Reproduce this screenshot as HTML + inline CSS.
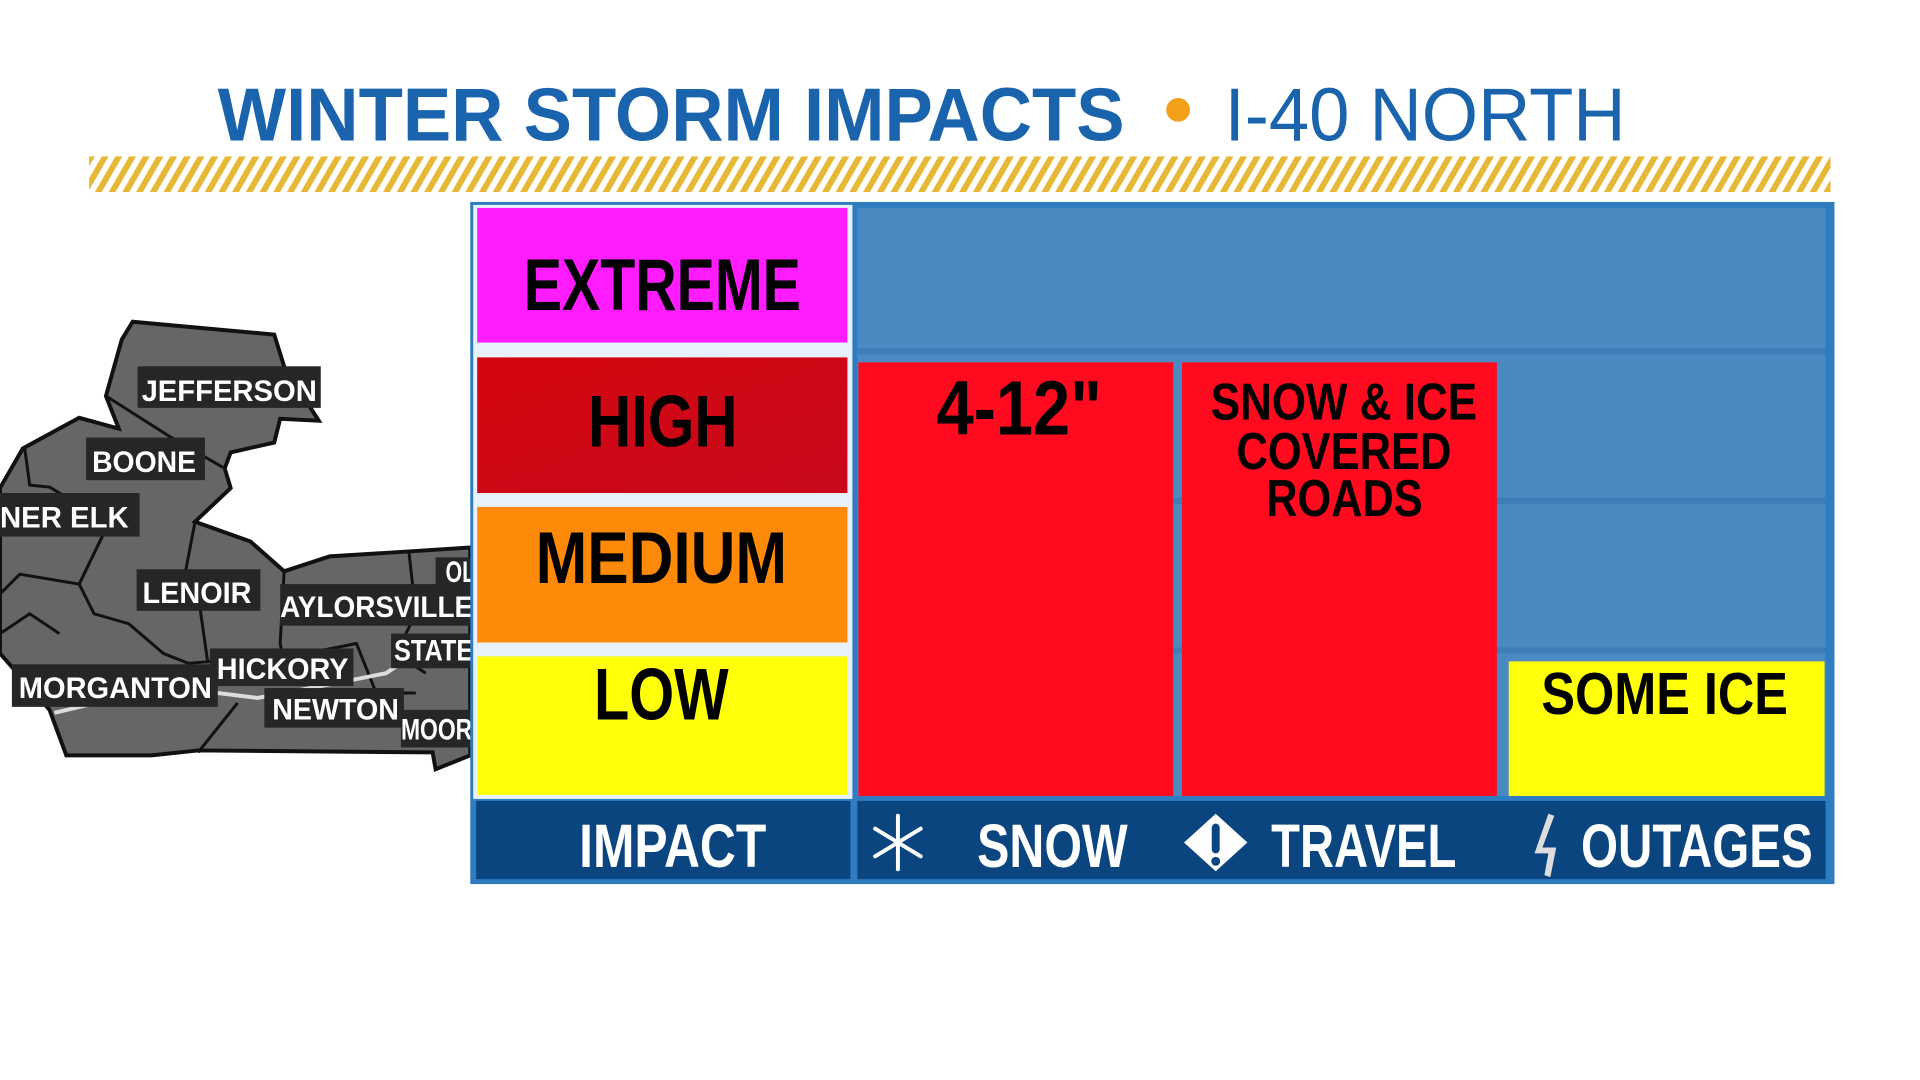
<!DOCTYPE html>
<html><head><meta charset="utf-8"><style>
html,body{margin:0;padding:0;background:#fff;width:1920px;height:1080px;overflow:hidden}
svg{display:block}
text{font-family:"Liberation Sans Narrow","Liberation Sans",sans-serif;font-weight:bold}
</style></head><body>
<svg width="1920" height="1080" viewBox="0 0 1920 1080" xmlns="http://www.w3.org/2000/svg">
<defs>
<pattern id="hatch" width="12" height="12" patternUnits="userSpaceOnUse" patternTransform="rotate(30)">
<rect width="12" height="12" fill="#fff"/><rect width="6" height="12" fill="#e6b835"/>
</pattern>
<linearGradient id="hg" x1="0" y1="0" x2="1" y2="1"><stop offset="0" stop-color="#d4060f"/><stop offset="1" stop-color="#c80a1c"/></linearGradient>
</defs>
<rect width="1920" height="1080" fill="#fff"/>
<g transform="scale(0.99)">
<!-- title -->
<text x="220" y="142" font-size="76" fill="#1a63ad" textLength="916" lengthAdjust="spacingAndGlyphs" style="font-family:'Liberation Sans',sans-serif">WINTER STORM IMPACTS</text>
<circle cx="1190" cy="111" r="12" fill="#f5a01a"/>
<text x="1237" y="142" font-size="76" fill="#1a63ad" textLength="405" lengthAdjust="spacingAndGlyphs" style="font-family:'Liberation Sans',sans-serif;font-weight:normal">I-40 NORTH</text>
<rect x="90" y="158" width="1759" height="36" fill="url(#hatch)"/>
<!-- map -->
<polygon points="134,325 277,338 287,370 322,425 283,423 277,447 233,457 227,473 233,493 197,527 253,547 287,577 333,562 413,557 475,553 475,763 440,777 437,760 200,758 153,763 67,763 50,717 0,660 0,493 23,453 80,422 120,433 107,400 123,343" fill="#666" stroke="#111" stroke-width="4"/>
<g stroke="#111" stroke-width="3" fill="none">
<polyline points="107,400 170,440 225,472"/>
<polyline points="25,453 30,490 50,492 110,528"/>
<polyline points="110,528 80,590 20,580 0,600"/>
<polyline points="110,528 80,590 95,620 130,630 165,660 190,670 215,668"/>
<polyline points="197,527 185,590 200,600 210,670"/>
<polyline points="287,577 283,650 285,660"/>
<polyline points="413,557 420,620 400,660 430,680"/>
<polyline points="285,665 360,650 380,700 420,700"/>
<polyline points="240,710 200,760"/>
<polyline points="0,640 30,620 60,640"/>
</g>
<polyline points="55,720 140,700 220,700 260,705 340,690 390,680 420,660 475,650" stroke="#ddd" stroke-width="4" fill="none"/>
<g fill="#262626">
<rect x="139" y="370" width="185" height="42"/><rect x="87" y="442" width="120" height="43"/>
<rect x="0" y="498" width="141" height="44"/><rect x="138" y="575" width="125" height="42"/>
<rect x="283" y="590" width="192" height="42"/><rect x="440" y="563" width="35" height="30"/>
<rect x="212" y="655" width="145" height="38"/><rect x="12" y="671" width="208" height="43"/>
<rect x="267" y="695" width="141" height="40"/><rect x="395" y="640" width="80" height="35"/>
<rect x="405" y="717" width="70" height="38"/>
</g>
<g fill="#fff" font-size="30" style="font-family:'Liberation Sans',sans-serif">
<text x="143" y="405" textLength="177" lengthAdjust="spacingAndGlyphs">JEFFERSON</text>
<text x="93" y="477" textLength="105" lengthAdjust="spacingAndGlyphs">BOONE</text>
<text x="0" y="533" textLength="130" lengthAdjust="spacingAndGlyphs">NER ELK</text>
<text x="144" y="609" textLength="110" lengthAdjust="spacingAndGlyphs">LENOIR</text>
<text x="283" y="623" textLength="195" lengthAdjust="spacingAndGlyphs">AYLORSVILLE</text>
<text x="450" y="588" textLength="30" lengthAdjust="spacingAndGlyphs">OL</text>
<text x="219" y="686" textLength="133" lengthAdjust="spacingAndGlyphs">HICKORY</text>
<text x="19" y="705" textLength="195" lengthAdjust="spacingAndGlyphs">MORGANTON</text>
<text x="275" y="727" textLength="128" lengthAdjust="spacingAndGlyphs">NEWTON</text>
<text x="398" y="667" textLength="80" lengthAdjust="spacingAndGlyphs">STATE</text>
<text x="405" y="747" textLength="72" lengthAdjust="spacingAndGlyphs">MOOR</text>
</g>
<!-- chart -->
<rect x="475" y="204" width="1378" height="689" fill="#2f7cc0"/>
<rect x="866" y="210" width="978" height="594" fill="#4a89c1"/>
<g fill="#3d7dba"><rect x="866" y="352" width="978" height="6"/><rect x="866" y="503" width="978" height="6"/><rect x="866" y="654" width="978" height="6"/></g>
<rect x="478" y="207" width="383" height="600" fill="#e8f2fa"/>
<rect x="482" y="210" width="374" height="136" fill="#ff1cff"/>
<rect x="482" y="361" width="374" height="137" fill="url(#hg)"/>
<rect x="482" y="512" width="374" height="137" fill="#ff8a0a"/>
<rect x="482" y="663" width="374" height="140" fill="#ffff0a"/>
<rect x="867" y="366" width="318" height="438" fill="#ff0a1e"/>
<rect x="1194" y="366" width="318" height="438" fill="#ff0a1e"/>
<rect x="1524" y="668" width="319" height="136" fill="#ffff0a"/>
<rect x="481" y="809" width="378" height="79" fill="#0b4580"/>
<rect x="866" y="809" width="978" height="79" fill="#0b4580"/>
<g fill="#000" font-size="74">
<text x="529" y="313" textLength="280" lengthAdjust="spacingAndGlyphs">EXTREME</text>
<text x="594" y="451" textLength="151" lengthAdjust="spacingAndGlyphs">HIGH</text>
<text x="541" y="589" textLength="254" lengthAdjust="spacingAndGlyphs">MEDIUM</text>
<text x="600" y="727" textLength="136" lengthAdjust="spacingAndGlyphs">LOW</text>
<text x="946" y="439" font-size="78" textLength="167" lengthAdjust="spacingAndGlyphs">4-12"</text>
<text x="1223" y="424" font-size="52" textLength="269" lengthAdjust="spacingAndGlyphs">SNOW &amp; ICE</text>
<text x="1249" y="474" font-size="52" textLength="217" lengthAdjust="spacingAndGlyphs">COVERED</text>
<text x="1279" y="521" font-size="52" textLength="158" lengthAdjust="spacingAndGlyphs">ROADS</text>
<text x="1557" y="721" font-size="60" textLength="249" lengthAdjust="spacingAndGlyphs">SOME ICE</text>
</g>
<g fill="#fff" font-size="62">
<text x="585" y="876" textLength="189" lengthAdjust="spacingAndGlyphs">IMPACT</text>
<text x="987" y="876" textLength="152" lengthAdjust="spacingAndGlyphs">SNOW</text>
<text x="1284" y="876" textLength="187" lengthAdjust="spacingAndGlyphs">TRAVEL</text>
<text x="1597" y="876" textLength="234" lengthAdjust="spacingAndGlyphs">OUTAGES</text>
</g>
<g stroke="#fff" stroke-width="4" stroke-linecap="round">
<line x1="907" y1="824" x2="907" y2="878"/><line x1="884" y1="837" x2="930" y2="865"/><line x1="884" y1="865" x2="930" y2="837"/>
</g>
<polygon points="1228,822 1260,851 1228,880 1196,851" fill="#fff"/>
<rect x="1224" y="832" width="8" height="30" rx="4" fill="#0b4580"/><circle cx="1228" cy="870" r="4.5" fill="#0b4580"/>
<polygon points="1564,822 1570,824 1558,856 1572,856 1566,886 1560,884 1564,862 1550,862" fill="#ddd"/>
</g>
</svg>
</body></html>
